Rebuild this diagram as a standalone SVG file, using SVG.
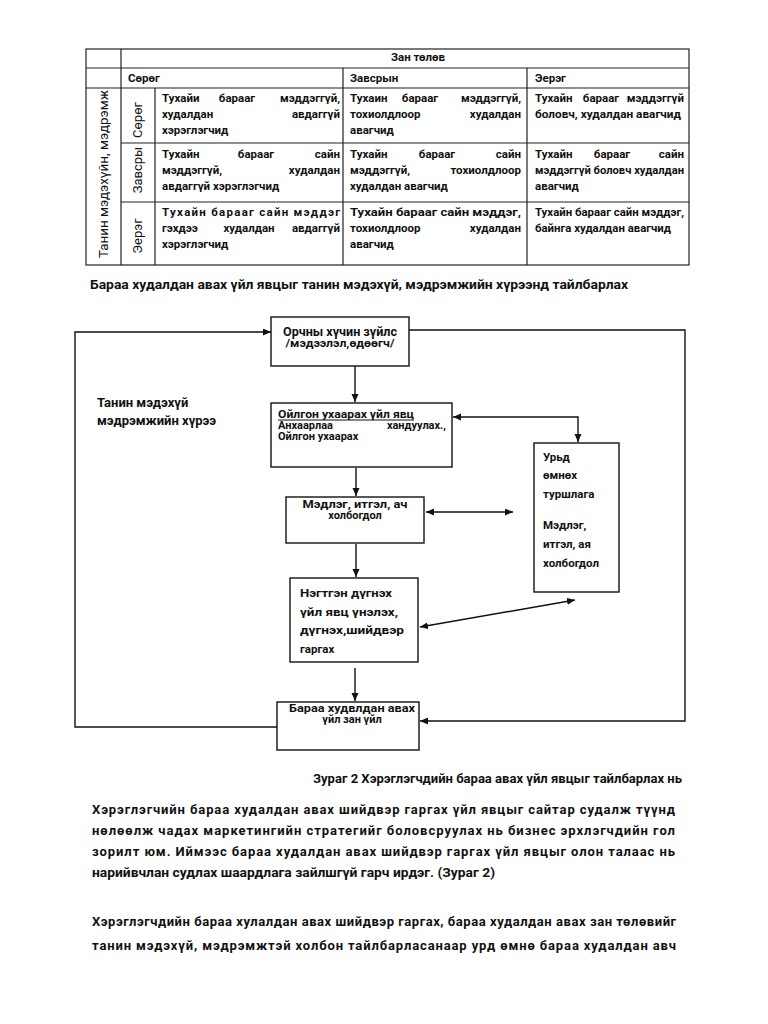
<svg xmlns="http://www.w3.org/2000/svg" width="768" height="1024" viewBox="0 0 768 1024">
<style>
.t{font-family:Roboto,"Liberation Sans",sans-serif;font-weight:bold;font-size:11.5px;fill:#111}
.s{font-family:Roboto,"Liberation Sans",sans-serif;font-weight:bold;font-size:11px;fill:#111}
.p{font-family:Roboto,"Liberation Sans",sans-serif;font-weight:bold;font-size:13px;fill:#111}
.v{font-family:Roboto,"Liberation Sans",sans-serif;font-weight:normal;font-size:13px;fill:#111}
.tl{stroke:#222;stroke-width:1.2;fill:none}
.box{fill:#fff;stroke:#111;stroke-width:1.4}
.c{fill:none;stroke:#111;stroke-width:1.4}
.m{text-anchor:middle}
.e{text-anchor:end}
</style>
<defs>
<marker id="ah" markerUnits="userSpaceOnUse" markerWidth="9" markerHeight="8" refX="8" refY="3.5" orient="auto-start-reverse"><path d="M0,0 L8,3.5 L0,7 z" fill="#111"/></marker>
</defs>
<rect width="768" height="1024" fill="#fff"/>

<g id="table">
<rect class="tl" x="86" y="49" width="603" height="216"/>
<path class="tl" d="M121 49V265M155 88V265M343 68V265M527 68V265M86 68H689M86 88H689M121 143H689M121 202H689"/>
<text class="t m" x="418" y="61">Зан төлөв</text>
<text class="t" x="128" y="82">Сөрөг</text>
<text class="t" x="350" y="82">Завсрын</text>
<text class="t" x="535" y="82">Эерэг</text>
<text class="v" transform="translate(108 258) rotate(-90)" textLength="168" lengthAdjust="spacingAndGlyphs">Танин мэдэхүйн, мэдрэмж</text>
<text class="v m" transform="translate(142 120) rotate(-90)">Сөрөг</text>
<text class="v m" transform="translate(142 170) rotate(-90)">Завсры</text>
<text class="v m" transform="translate(142 236) rotate(-90)">Эерэг</text>

<text class="t" x="162" y="102">Тухайи</text><text class="t m" x="237" y="102">барааг</text><text class="t e" x="340" y="102">мэддэггүй,</text>
<text class="t" x="162" y="118">худалдан</text><text class="t e" x="340" y="118">авдаггүй</text>
<text class="t" x="162" y="134">хэрэглэгчид</text>
<text class="t" x="350" y="102">Тухаин</text><text class="t m" x="420" y="102">барааг</text><text class="t e" x="521" y="102">мэддэггүй,</text>
<text class="t" x="350" y="118">тохиолдлоор</text><text class="t e" x="521" y="118">худалдан</text>
<text class="t" x="350" y="134">авагчид</text>
<text class="t" x="535" y="102">Тухайн</text><text class="t m" x="601" y="102">барааг</text><text class="t e" x="684" y="102">мэддэггүй</text>
<text class="t" x="535" y="118" textLength="146" lengthAdjust="spacingAndGlyphs">боловч, худалдан авагчид</text>

<text class="t" x="162" y="158">Тухайн</text><text class="t m" x="256" y="158">барааг</text><text class="t e" x="340" y="158">сайн</text>
<text class="t" x="162" y="174">мэддэггүй,</text><text class="t e" x="340" y="174">худалдан</text>
<text class="t" x="162" y="190">авдаггүй хэрэглэгчид</text>
<text class="t" x="350" y="158">Тухайн</text><text class="t m" x="437" y="158">барааг</text><text class="t e" x="521" y="158">сайн</text>
<text class="t" x="350" y="174">мэддэггүй,</text><text class="t e" x="521" y="174">тохиолдлоор</text>
<text class="t" x="350" y="190">худалдан авагчид</text>
<text class="t" x="535" y="158">Тухайн</text><text class="t m" x="612" y="158">барааг</text><text class="t e" x="684" y="158">сайн</text>
<text class="t" x="535" y="174" textLength="149" lengthAdjust="spacingAndGlyphs">мэддэггүй боловч худалдан</text>
<text class="t" x="535" y="190">авагчид</text>

<text class="t" x="162" y="216" textLength="178" lengthAdjust="spacing">Тухайн барааг сайн мэддэг</text>
<text class="t" x="162" y="232">гэхдээ</text><text class="t m" x="249" y="232">худалдан</text><text class="t e" x="340" y="232">авдаггүй</text>
<text class="t" x="162" y="248">хэрэглэгчид</text>
<text class="t" x="350" y="216" textLength="171" lengthAdjust="spacingAndGlyphs">Тухайн барааг сайн мэддэг,</text>
<text class="t" x="350" y="232">тохиолдлоор</text><text class="t e" x="521" y="232">худалдан</text>
<text class="t" x="350" y="248">авагчид</text>
<text class="t" x="535" y="216" textLength="149" lengthAdjust="spacingAndGlyphs">Тухайн барааг сайн мэддэг,</text>
<text class="t" x="535" y="232" textLength="136" lengthAdjust="spacingAndGlyphs">байнга худалдан авагчид</text>
</g>

<text class="p" x="90" y="289" textLength="538" lengthAdjust="spacingAndGlyphs">Бараа худалдан авах үйл явцыг танин мэдэхүй, мэдрэмжийн хүрээнд тайлбарлах</text>

<g id="connectors">
<path class="c" d="M355 366V402" marker-end="url(#ah)"/>
<path class="c" d="M453 417H578V442" marker-start="url(#ah)" marker-end="url(#ah)"/>
<path class="c" d="M356 468V496" marker-end="url(#ah)"/>
<path class="c" d="M426 512H513" marker-start="url(#ah)" marker-end="url(#ah)"/>
<path class="c" d="M356 544V577" marker-end="url(#ah)"/>
<path class="c" d="M420 627L575 600" marker-start="url(#ah)" marker-end="url(#ah)"/>
<path class="c" d="M355 668V701" marker-end="url(#ah)"/>
<path class="c" d="M277 727H75V332H271" marker-end="url(#ah)"/>
<path class="c" d="M409 330H685V721H420" marker-end="url(#ah)"/>
</g>

<g id="label-frame">
<text class="p" x="97" y="407">Танин мэдэхүй</text>
<text class="p" x="97" y="425">мэдрэмжийн хүрээ</text>
</g>

<g id="node-orchny">
<rect class="box" x="271" y="317" width="138" height="49"/>
<text class="p m" x="340" y="336" textLength="114" lengthAdjust="spacingAndGlyphs">Орчны хүчин зүйлс</text>
<text class="s m" x="340" y="347" textLength="109" lengthAdjust="spacingAndGlyphs">/мэдээлэл,өдөөгч/</text>
</g>

<g id="node-oilgon">
<rect class="box" x="271" y="403" width="181" height="64"/>
<text class="s" x="278" y="418" textLength="136" lengthAdjust="spacingAndGlyphs">Ойлгон ухаарах үйл явц</text>
<path d="M278 420H414" stroke="#111" stroke-width="1"/>
<text class="s" x="278" y="429">Анхаарлаа</text><text class="s e" x="446" y="429">хандуулах.,</text>
<text class="s" x="278" y="440">Ойлгон ухаарах</text>
</g>

<g id="node-medleg">
<rect class="box" x="286" y="497" width="138" height="46"/>
<text class="s m" x="355" y="508" textLength="105" lengthAdjust="spacingAndGlyphs">Мэдлэг, итгэл, ач</text>
<text class="s m" x="355" y="519">холбогдол</text>
</g>

<g id="node-urid">
<rect class="box" x="534" y="443" width="85" height="149"/>
<text class="t" x="543" y="461">Урьд</text>
<text class="t" x="543" y="479">өмнөх</text>
<text class="t" x="543" y="498">туршлага</text>
<text class="t" x="543" y="529">Мэдлэг,</text>
<text class="t" x="543" y="548">итгэл, ая</text>
<text class="t" x="543" y="567">холбогдол</text>
</g>

<g id="node-negtgen">
<rect class="box" x="290" y="578" width="128" height="84"/>
<text class="t" x="300" y="597" textLength="92" lengthAdjust="spacingAndGlyphs">Нэгтгэн дүгнэх</text>
<text class="t" x="300" y="616" textLength="98" lengthAdjust="spacingAndGlyphs">үйл явц үнэлэх,</text>
<text class="t" x="300" y="634" textLength="104" lengthAdjust="spacingAndGlyphs">дүгнэх,шийдвэр</text>
<text class="t" x="300" y="653">гаргах</text>
</g>

<g id="node-baraa">
<rect class="box" x="277" y="702" width="142" height="48"/>
<text class="s m" x="352" y="712" textLength="126" lengthAdjust="spacingAndGlyphs">Бараа худвлдан авах</text>
<text class="s m" x="352" y="723">үйл зан үйл</text>
</g>

<text class="p" x="313" y="783" textLength="369" lengthAdjust="spacingAndGlyphs">Зураг 2 Хэрэглэгчдийн бараа авах үйл явцыг тайлбарлах нь</text>

<text class="p" x="92" y="814" textLength="583" lengthAdjust="spacing">Хэрэглэгчийн бараа худалдан авах шийдвэр гаргах үйл явцыг сайтар судалж түүнд</text>
<text class="p" x="92" y="835" textLength="583" lengthAdjust="spacing">нөлөөлж чадах маркетингийн стратегийг боловсруулах нь бизнес эрхлэгчдийн гол</text>
<text class="p" x="92" y="856" textLength="583" lengthAdjust="spacing">зорилт юм. Иймээс бараа худалдан авах шийдвэр гаргах үйл явцыг олон талаас нь</text>
<text class="p" x="92" y="877" textLength="403" lengthAdjust="spacingAndGlyphs">нарийвчлан судлах шаардлага зайлшгүй гарч ирдэг. (Зураг 2)</text>

<text class="p" x="92" y="926" textLength="584" lengthAdjust="spacing">Хэрэглэгчдийн бараа хулалдан авах шийдвэр гаргах, бараа худалдан авах зан төлөвийг</text>
<text class="p" x="92" y="950" textLength="584" lengthAdjust="spacing">танин мэдэхүй, мэдрэмжтэй холбон тайлбарласанаар урд өмнө бараа худалдан авч</text>
</svg>
